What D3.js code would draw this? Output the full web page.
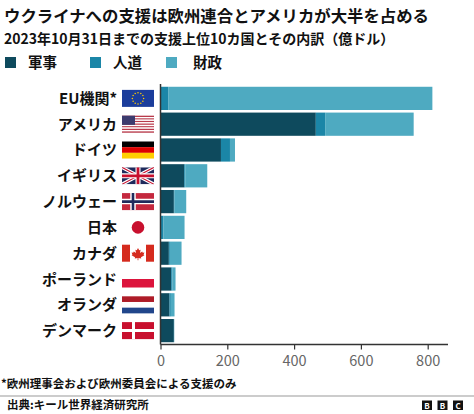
<!DOCTYPE html>
<html>
<head>
<meta charset="utf-8">
<script src="https://cdn.jsdelivr.net/npm/d3@7"></script>
<style>
  body { margin: 0; background: #fff; }
  text { font-family: "Noto Sans CJK JP", "Noto Sans", sans-serif; }
</style>
</head>
<body>
<div class="canvas"></div>
<script>
// data (億ドル)
var countries = ["EU機関*", "アメリカ", "ドイツ", "イギリス", "ノルウェー", "日本", "カナダ", "ポーランド", "オランダ", "デンマーク"];
var flags = ["eu", "us", "de", "uk", "no", "jp", "ca", "pl", "nl", "dk"];
var military = [0, 465, 181, 71, 40, 0, 25, 32, 27, 40];
var humanitarian = [23, 28, 27, 3, 2, 9, 3, 4, 4, 1];
var financial = [791, 265, 15, 66, 35, 63, 35, 9, 11, 0];
var seriesNames = ["軍事", "人道", "財政"];
var seriesColors = ["#0e4a5d", "#1b86a7", "#4eaac1"];
var ticks = [0, 200, 400, 600, 800];

var W = 474, H = 414;
var svg = d3.select(".canvas").append("svg")
  .attr("width", W)
  .attr("height", H);

// titles
svg.append("text")
  .attr("x", 4).attr("y", 22)
  .attr("font-size", "16.4px").attr("font-weight", "bold")
  .attr("fill", "#111")
  .text("ウクライナへの支援は欧州連合とアメリカが大半を占める");

svg.append("text")
  .attr("x", 4).attr("y", 44)
  .attr("font-size", "14px").attr("font-weight", "bold")
  .attr("fill", "#111")
  .text("2023年10月31日までの支援上位10カ国とその内訳（億ドル）");

// legend
var legendX = [5, 90, 166];
seriesNames.forEach(function(name, i){
  svg.append("rect")
    .attr("x", legendX[i]).attr("y", 57)
    .attr("width", 11).attr("height", 11)
    .attr("fill", seriesColors[i]);
  svg.append("text")
    .attr("x", legendX[i] + (i == 2 ? 27 : 23)).attr("y", 68)
    .attr("font-size", "14.5px").attr("font-weight", "bold")
    .attr("fill", "#111")
    .text(name);
});

var x = d3.scaleLinear().domain([0, 800]).range([160.5, 427.7]);
var y = d3.scaleBand().domain(countries).range([86, 343]).paddingInner(0.1).paddingOuter(0.03);

var rows = countries.map(function(c, i){
  return { country: c, flag: flags[i], values: [military[i], humanitarian[i], financial[i]] };
});

// bars
var bar = svg.append("g").selectAll("g")
  .data(rows)
  .enter().append("g");

bar.each(function(d){
  var g = d3.select(this);
  var start = 0;
  d.values.forEach(function(v, k){
    if (v > 0) {
      g.append("rect")
        .attr("x", x(start))
        .attr("y", y(d.country))
        .attr("width", x(start + v) - x(start))
        .attr("height", y.bandwidth())
        .attr("fill", seriesColors[k]);
    }
    start += v;
  });
});

// country labels
svg.append("g").selectAll("text")
  .data(rows)
  .enter().append("text")
  .attr("x", 117)
  .attr("y", function(d){ return y(d.country) + y.bandwidth() / 2 + 5.5; })
  .attr("text-anchor", "end")
  .attr("font-size", "15px").attr("font-weight", "bold")
  .attr("fill", "#111")
  .text(function(d){ return d.country; });

// flags
var fw = 32, fh = 17;
var defs = svg.append("defs");
defs.append("clipPath").attr("id", "ukclip")
  .append("rect").attr("width", fw).attr("height", fh);

function drawFlag(g, code){
  if (code == "eu") {
    g.append("rect").attr("width", fw).attr("height", fh).attr("fill", "#1b3d9b");
    d3.range(12).forEach(function(k){
      var a = k / 12 * 2 * Math.PI;
      g.append("circle")
        .attr("cx", fw / 2 + 5.6 * Math.cos(a))
        .attr("cy", fh / 2 + 5.6 * Math.sin(a))
        .attr("r", 0.75).attr("fill", "#ffcc00");
    });
  } else if (code == "us") {
    d3.range(13).forEach(function(k){
      g.append("rect").attr("y", k * fh / 13).attr("width", fw).attr("height", fh / 13 + 0.05)
        .attr("fill", k % 2 == 0 ? "#b83a4b" : "#fff");
    });
    g.append("rect").attr("width", 13).attr("height", fh * 7 / 13).attr("fill", "#3c3b6e");
  } else if (code == "de") {
    ["#000", "#dd0000", "#ffce00"].forEach(function(c, k){
      g.append("rect").attr("y", k * fh / 3).attr("width", fw).attr("height", fh / 3 + 0.05).attr("fill", c);
    });
  } else if (code == "uk") {
    var u = g.append("g").attr("clip-path", "url(#ukclip)");
    u.append("rect").attr("width", fw).attr("height", fh).attr("fill", "#1f2a5c");
    u.append("path").attr("d", "M0,0L" + fw + "," + fh + "M" + fw + ",0L0," + fh)
      .attr("stroke", "#fff").attr("stroke-width", 3.4);
    u.append("path").attr("d", "M0,0L" + fw + "," + fh + "M" + fw + ",0L0," + fh)
      .attr("stroke", "#c8102e").attr("stroke-width", 1.1);
    u.append("path").attr("d", "M" + fw / 2 + ",0V" + fh + "M0," + fh / 2 + "H" + fw)
      .attr("stroke", "#fff").attr("stroke-width", 5);
    u.append("path").attr("d", "M" + fw / 2 + ",0V" + fh + "M0," + fh / 2 + "H" + fw)
      .attr("stroke", "#c8102e").attr("stroke-width", 2.8);
  } else if (code == "no") {
    g.append("rect").attr("width", fw).attr("height", fh).attr("fill", "#c4283e");
    g.append("path").attr("d", "M11,0V" + fh + "M0," + fh / 2 + "H" + fw)
      .attr("stroke", "#fff").attr("stroke-width", 5.5);
    g.append("path").attr("d", "M11,0V" + fh + "M0," + fh / 2 + "H" + fw)
      .attr("stroke", "#1f2a5c").attr("stroke-width", 2.6);
  } else if (code == "jp") {
    g.append("circle").attr("cx", fw / 2).attr("cy", fh / 2).attr("r", 6.3).attr("fill", "#c8102e");
  } else if (code == "ca") {
    g.append("rect").attr("width", 8).attr("height", fh).attr("fill", "#d52b1e");
    g.append("rect").attr("x", fw - 8).attr("width", 8).attr("height", fh).attr("fill", "#d52b1e");
    g.append("path")
      .attr("d", "M16,3.2L17.2,5.6L18.6,5L18,8.4L20.2,6.8L20.8,8L22.4,7.8L21.6,10L22.4,10.6L19,12.6L19.2,13.8L16.4,13.4V15.6H15.6V13.4L12.8,13.8L13,12.6L9.6,10.6L10.4,10L9.6,7.8L11.2,8L11.8,6.8L14,8.4L13.4,5L14.8,5.6Z")
      .attr("fill", "#d52b1e");
  } else if (code == "pl") {
    g.append("rect").attr("y", fh / 2).attr("width", fw).attr("height", fh / 2).attr("fill", "#dc143c");
  } else if (code == "nl") {
    ["#ae1c28", "#fff", "#21468b"].forEach(function(c, k){
      g.append("rect").attr("y", k * fh / 3).attr("width", fw).attr("height", fh / 3 + 0.05).attr("fill", c);
    });
  } else if (code == "dk") {
    g.append("rect").attr("width", fw).attr("height", fh).attr("fill", "#c8102e");
    g.append("path").attr("d", "M11.5,0V" + fh + "M0," + fh / 2 + "H" + fw)
      .attr("stroke", "#fff").attr("stroke-width", 3);
  }
}

svg.append("g").selectAll("g")
  .data(rows)
  .enter().append("g")
  .attr("transform", function(d){
    return "translate(122," + (y(d.country) + y.bandwidth() / 2 - fh / 2) + ")";
  })
  .each(function(d){ drawFlag(d3.select(this), d.flag); });

// axes
svg.append("line")
  .attr("x1", x(0)).attr("y1", 84)
  .attr("x2", x(0)).attr("y2", 344.5)
  .attr("stroke", "#333").attr("stroke-width", 1.5);

var xAxis = svg.append("g")
  .attr("transform", "translate(0,344.5)")
  .call(d3.axisBottom(x).tickValues(ticks).tickSize(5).tickPadding(6).tickSizeOuter(0));
xAxis.select(".domain").remove();
xAxis.append("line")
  .attr("x1", x(0)).attr("x2", 448)
  .attr("stroke", "#333").attr("stroke-width", 1.5);
xAxis.selectAll(".tick line").attr("stroke", "#333").attr("stroke-width", 1.2);
xAxis.selectAll(".tick text")
  .attr("font-family", "'Open Sans', 'Noto Sans', sans-serif")
  .attr("font-size", "14.5px")
  .attr("fill", "#666");

// footer
svg.append("text")
  .attr("x", 1).attr("y", 388)
  .attr("font-size", "11.5px").attr("font-weight", "bold")
  .attr("fill", "#111")
  .text("*欧州理事会および欧州委員会による支援のみ");

svg.append("line")
  .attr("x1", 0).attr("x2", W)
  .attr("y1", 396).attr("y2", 396)
  .attr("stroke", "#999").attr("stroke-width", 1.2);

svg.append("text")
  .attr("x", 7).attr("y", 409)
  .attr("font-size", "11.5px").attr("font-weight", "bold")
  .attr("fill", "#111")
  .text("出典:キール世界経済研究所");

var bbc = ["B", "B", "C"];
bbc.forEach(function(l, i){
  svg.append("rect")
    .attr("x", 422 + i * 15.5).attr("y", 400.5)
    .attr("width", 10).attr("height", 9.5)
    .attr("fill", "#111");
  svg.append("text")
    .attr("x", 427 + i * 15.5).attr("y", 408.5)
    .attr("text-anchor", "middle")
    .attr("font-family", "'Liberation Sans', sans-serif")
    .attr("font-size", "8px").attr("font-weight", "bold")
    .attr("fill", "#fff")
    .text(l);
});
</script>
</body>
</html>
